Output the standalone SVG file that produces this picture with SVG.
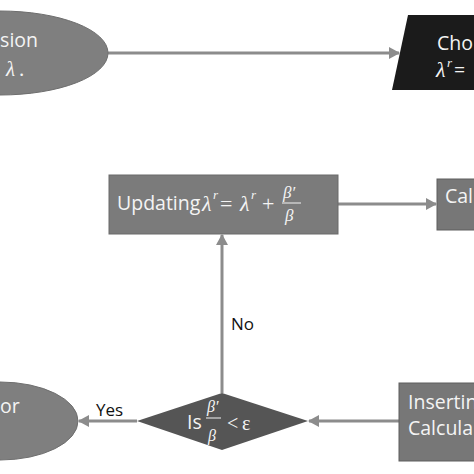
<svg xmlns="http://www.w3.org/2000/svg" width="474" height="474" viewBox="0 0 474 474">
<style>
.t{font-family:"Open Sans","Liberation Sans",sans-serif;font-size:19.5px;fill:#f4f4f4}
.m{font-family:"Liberation Serif",serif;font-style:italic;fill:#f4f4f4}
.mn{font-family:"Liberation Serif",serif;fill:#f4f4f4}
.lbl{font-family:"Open Sans","Liberation Sans",sans-serif;font-size:17px;fill:#111}
.c{stroke:#8c8c8c;stroke-width:3;fill:none}
</style>
<defs>
<marker id="ah" markerUnits="userSpaceOnUse" markerWidth="12" markerHeight="12" refX="10" refY="6" orient="auto">
<path d="M0,0 L11,6 L0,12 Z" fill="#8c8c8c"/>
</marker>
</defs>
<rect width="474" height="474" fill="#fff"/>
<g id="connectors">
<line class="c" x1="108" y1="53" x2="399" y2="53" marker-end="url(#ah)"/>
<line class="c" x1="338" y1="204" x2="436" y2="204" marker-end="url(#ah)"/>
<line class="c" x1="222" y1="393" x2="222" y2="235" marker-end="url(#ah)"/>
<line class="c" x1="137" y1="421" x2="79" y2="421" marker-end="url(#ah)"/>
<line class="c" x1="399" y1="421" x2="309" y2="421" marker-end="url(#ah)"/>
<text class="lbl" x="96" y="416">Yes</text>
<text class="lbl" x="231" y="330">No</text>
</g>
<g id="start">
<ellipse cx="0" cy="53" rx="108" ry="42" fill="#7f7f7f" stroke="#6e6e6e"/>
<text class="t" x="38" y="47" text-anchor="end">sion</text>
<text class="m" x="6" y="76" font-size="21">λ</text>
<text class="mn" x="19" y="76" font-size="21">.</text>
</g>
<g id="choose">
<polygon points="408,15 480,15 480,90 392,90" fill="#1b1b1b"/>
<text class="t" x="437" y="50">Cho</text>
<text class="m" x="436" y="77" font-size="22">λ</text>
<text class="m" x="447" y="67" font-size="13">r</text>
<text class="t" x="454" y="77">=</text>
</g>
<g id="update">
<rect x="109" y="175" width="229" height="59" fill="#7b7b7b" stroke="#6a6a6a"/>
<text class="t" x="117" y="210">Updating</text>
<text class="m" x="202" y="211" font-size="22">λ</text>
<text class="m" x="213" y="199" font-size="13">r</text>
<text class="mn" x="220" y="211" font-size="22">=</text>
<text class="m" x="240" y="211" font-size="22">λ</text>
<text class="m" x="251" y="199" font-size="13">r</text>
<text class="mn" x="262" y="211" font-size="22">+</text>
<text class="m" x="283" y="198" font-size="17">β′</text>
<line x1="282" y1="203" x2="301" y2="203" stroke="#f4f4f4" stroke-width="1"/>
<text class="m" x="285" y="221" font-size="17">β</text>
</g>
<g id="calc">
<rect x="437" y="179" width="45" height="51" fill="#777" stroke="#5e5e5e"/>
<text class="t" x="445" y="203">Cal</text>
</g>
<g id="decision">
<polygon points="137,421 222,393 308,421 222,450" fill="#555"/>
<text class="t" x="187" y="429">Is</text>
<text class="m" x="207" y="412" font-size="16">β′</text>
<line x1="206" y1="418" x2="221" y2="418" stroke="#f4f4f4" stroke-width="1"/>
<text class="m" x="208" y="441" font-size="16">β</text>
<text class="mn" x="227" y="430" font-size="20">&lt;</text>
<text class="mn" x="242" y="430" font-size="20">ε</text>
</g>
<g id="insert">
<rect x="399" y="383" width="80" height="78" fill="#777" stroke="#5e5e5e"/>
<text class="t" x="408" y="409">Insertin</text>
<text class="t" x="408" y="435">Calcula</text>
</g>
<g id="end">
<ellipse cx="0" cy="421" rx="78" ry="39" fill="#7f7f7f" stroke="#6e6e6e"/>
<text class="t" x="0" y="413">or</text>
</g>
</svg>
